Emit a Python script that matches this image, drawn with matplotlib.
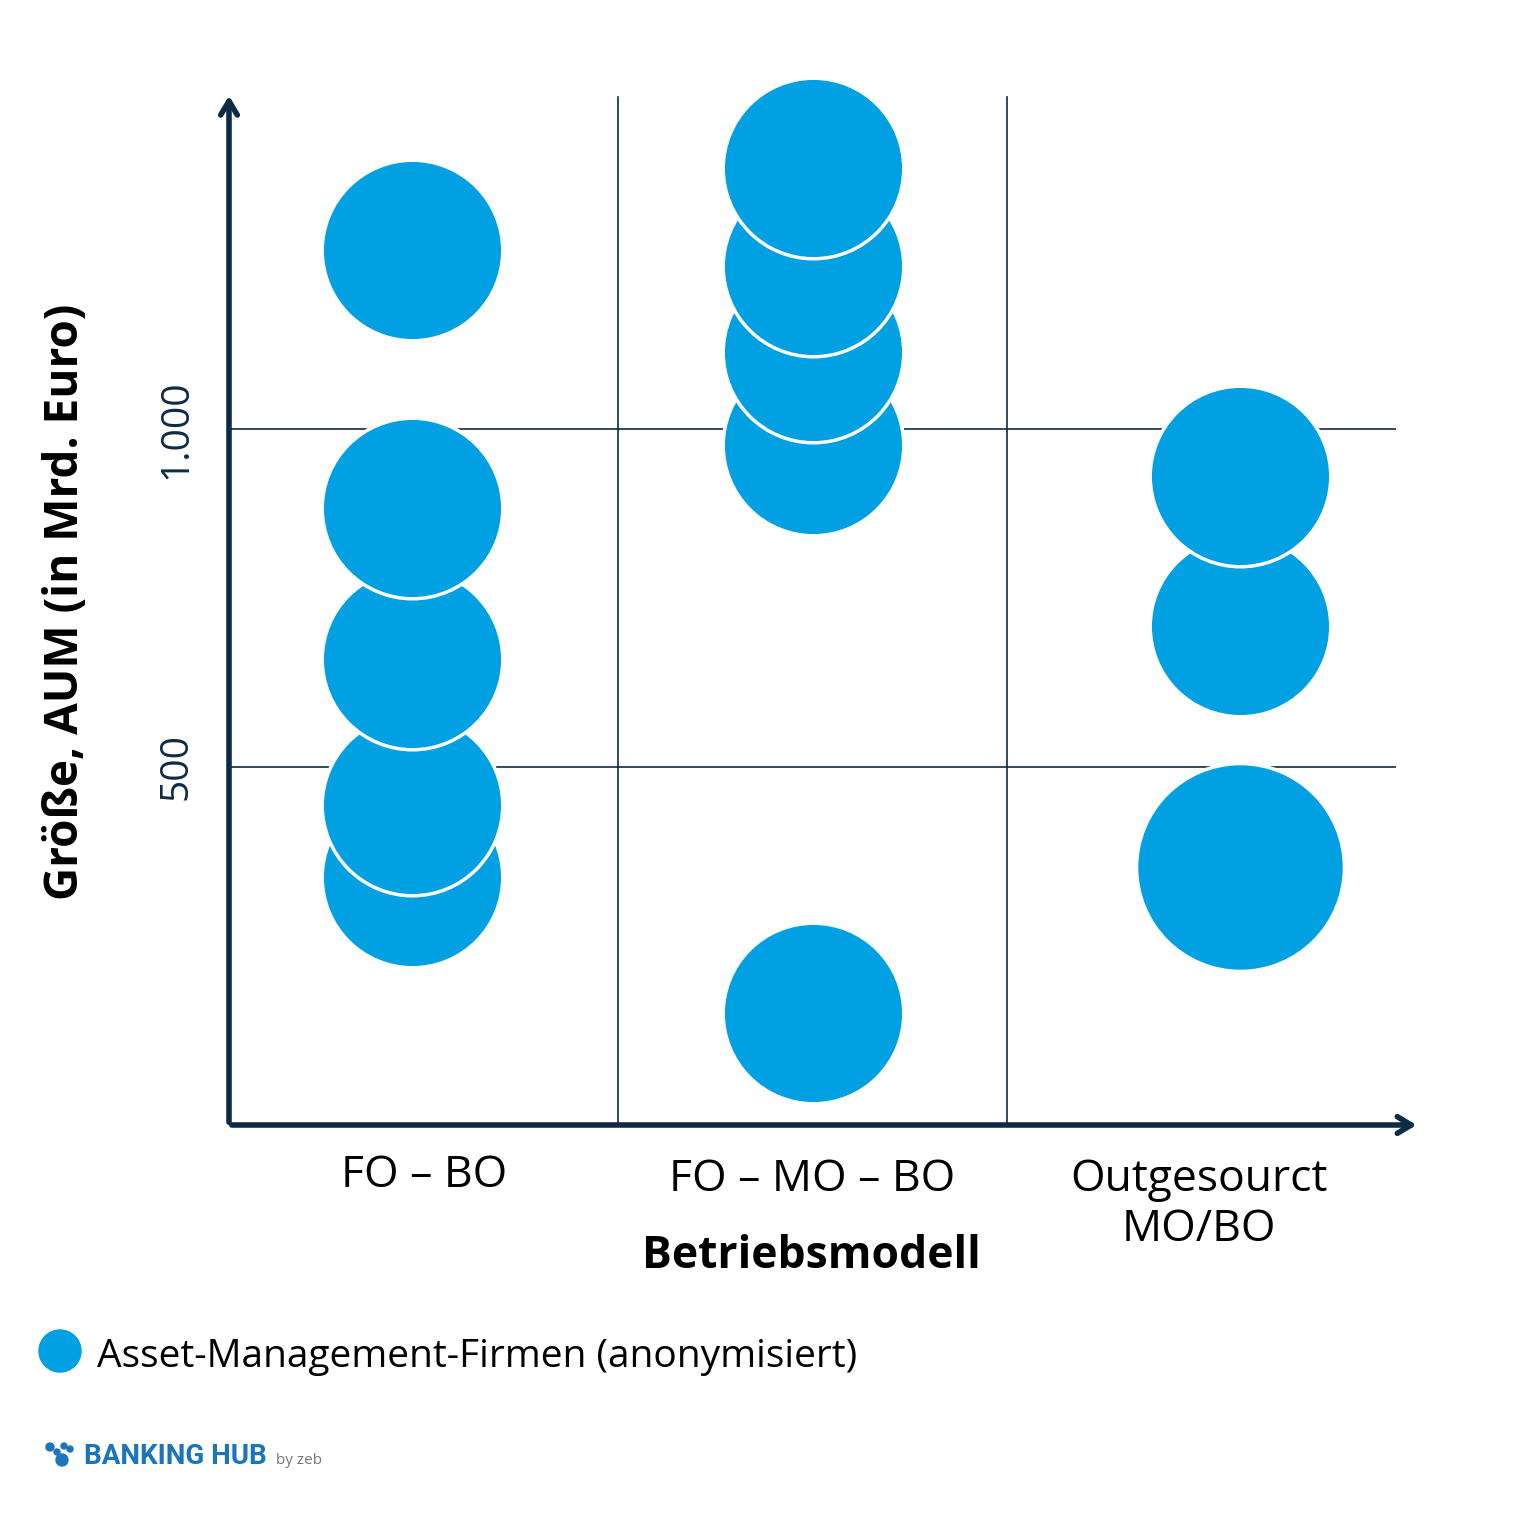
import matplotlib
matplotlib.use("Agg")
import matplotlib.pyplot as plt

plt.rcParams['font.family'] = ['Open Sans', 'DejaVu Sans']

categories = ["FO – BO", "FO – MO – BO", "Outgesourct\nMO/BO"]
cat_x = [0.47, 1.5, 2.6]
aum = [
    [337, 444, 660, 883, 1265],
    [135, 976, 1114, 1241, 1386],
    [352, 709, 930],
]
sizes = [
    [16900] * 5,
    [16900] * 5,
    [22400, 16900, 16900],
]
yticks = [500, 1000]
ytick_labels = ["500", "1.000"]

BLUE = "#00a0e3"
NAVY = "#0d2b45"

fig = plt.figure(figsize=(15.36, 15.29), dpi=100)
ax = fig.add_axes([229/1536, 1 - 1125/1529, (1396-229)/1536, (1125-97)/1529])
ax.set_xlim(0, 3)
ax.set_ylim(-30, 1491)
for s in ax.spines.values():
    s.set_visible(False)
ax.set_xticks([])
ax.set_yticks([])

for y in yticks:
    ax.axhline(y, color=NAVY, lw=1.2, zorder=1)
for x in [1, 2]:
    ax.plot([x, x], [-30, 1491], color=NAVY, lw=1.2, zorder=1, clip_on=False)

for xs, ys, ss in zip(cat_x, aum, sizes):
    for y, s in sorted(zip(ys, ss)):
        ax.scatter([xs], [y], s=s, color=BLUE, edgecolor="white", linewidth=2.5,
                   zorder=3, clip_on=False)

# axes arrows
ax.annotate("", xy=(3.06, -30), xytext=(0, -30), xycoords="data",
            arrowprops=dict(arrowstyle="->,head_length=1.0,head_width=0.6", color=NAVY, lw=4),
            annotation_clip=False)
ax.annotate("", xy=(0, 1497), xytext=(0, -30), xycoords="data",
            arrowprops=dict(arrowstyle="->,head_length=1.0,head_width=0.6", color=NAVY, lw=4),
            annotation_clip=False)

for y, lab in zip(yticks, ytick_labels):
    ax.text(-0.135, y, lab, rotation=90, ha="center", va="center", fontsize=28, color=NAVY)

label_y = [1176, 1180, 1205]
for x, lab, py in zip(cat_x, categories, label_y):
    fig.text((229 + x * 389) / 1536 + (0.008 if x < 1 else (0 if x < 2 else -0.027)),
             1 - py / 1529, lab, ha="center", va="center", fontsize=32, color="black",
             linespacing=1.15)

fig.text(811/1536, 1 - 1257/1529, "Betriebsmodell", ha="center", va="center",
         fontsize=32, fontweight="bold")
fig.text(66/1536, 1 - 602/1529, "Größe, AUM (in Mrd. Euro)", ha="center", va="center",
         fontsize=33, fontweight="bold", rotation=90)

# legend
fig.patches.append(matplotlib.patches.Ellipse((60/1536, 1 - 1351/1529), 42/1536, 42/1529,
                   transform=fig.transFigure, color=BLUE))
fig.text(97/1536, 1 - 1357/1529, "Asset-Management-Firmen (anonymisiert)",
         ha="left", va="center", fontsize=28)

# logo
fig.text(84/1536, 1 - 1456/1529, "BANKING HUB", ha="left", va="center", fontsize=20,
         color="#1b75bb", fontweight="bold", family=["Roboto", "DejaVu Sans"])
fig.text(276/1536, 1 - 1460/1529, "by zeb", ha="left", va="center", fontsize=11, color="#777777")
for (px, py, r) in [(50, 1447, 4), (57, 1452, 3), (64, 1446, 3), (62, 1460, 6), (70, 1449, 3)]:
    fig.patches.append(matplotlib.patches.Ellipse((px/1536, 1 - py/1529), 2*r/1536, 2*r/1529,
                       transform=fig.transFigure, color="#1b75bb"))

fig.savefig("out.png", dpi=100, facecolor="white")
